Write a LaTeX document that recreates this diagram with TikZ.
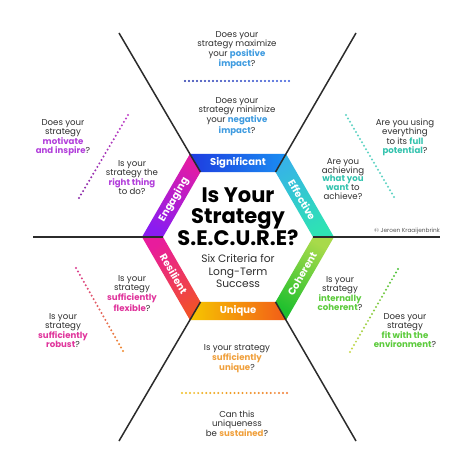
\documentclass[tikz,border=0pt]{standalone}
\usepackage{fontspec}
\setmainfont{Poppins}
\usetikzlibrary{calc}
\usetikzlibrary{positioning}

\definecolor{lineGray}{HTML}{2B2B2B}
\definecolor{txtGray}{HTML}{2E2E2E}
\definecolor{cpyGray}{HTML}{555555}
%band colours (start / end of each band, clockwise)
\definecolor{sigA}{HTML}{1E3CE0}
\definecolor{sigB}{HTML}{1A8EF2}
\definecolor{effA}{HTML}{36B4E6}
\definecolor{effB}{HTML}{2EE2B4}
\definecolor{cohA}{HTML}{A8DA4A}
\definecolor{cohB}{HTML}{20C02E}
\definecolor{uniA}{HTML}{F25C18}
\definecolor{uniB}{HTML}{F6C600}
\definecolor{resA}{HTML}{F2502A}
\definecolor{resB}{HTML}{E81C9C}
\definecolor{engA}{HTML}{8A1CF0}
\definecolor{engB}{HTML}{E21CA6}
%question colours
\definecolor{qBlue}{HTML}{3E9BE0}
\definecolor{qPurple}{HTML}{B23FDB}
\definecolor{qTeal}{HTML}{33C3AE}
\definecolor{qPink}{HTML}{E0359C}
\definecolor{qGreen}{HTML}{5CCB3C}
\definecolor{qOrange}{HTML}{F0A03C}
%dot colours
\definecolor{dBlueA}{HTML}{2233AA}
\definecolor{dBlueB}{HTML}{3558DD}
\definecolor{dPurA}{HTML}{C040C8}
\definecolor{dPurB}{HTML}{8A2AA8}
\definecolor{dTealA}{HTML}{5ED3C3}
\definecolor{dTealB}{HTML}{5ED3C3}
\definecolor{dPinkA}{HTML}{D93A8F}
\definecolor{dPinkB}{HTML}{F08A30}
\definecolor{dGreenA}{HTML}{4CC23A}
\definecolor{dGreenB}{HTML}{C8D84A}
\definecolor{dOrA}{HTML}{F0C020}
\definecolor{dOrB}{HTML}{F07A30}

\newcommand{\hlt}[2]{{\bfseries\color{#1}#2}}

\begin{document}
\begin{tikzpicture}[x=1pt, y=1pt,
  spoke/.style={lineGray, line width=1.5pt},
  band/.style={text=white, font=\fontsize{10}{11}\selectfont\bfseries, inner sep=0pt},
  quest/.style={align=center, text=txtGray, inner sep=0pt, font=\fontsize{8.6}{8.9}\selectfont}]

  \useasboundingbox[fill=white] (-238,-237) rectangle (236,237);

  \def\R{96};
  \def\r{75};

%draw hexagon bands
  \foreach \a/\cs/\ce/\lab/\rot in {120/sigA/sigB/Significant/0, 60/effA/effB/Effective/-60,
                                    0/cohA/cohB/Coherent/60, -60/uniA/uniB/Unique/0,
                                    -120/resA/resB/Resilient/-60, 180/engA/engB/Engaging/60}{
      \pgfmathsetmacro\b{\a-60}
      \pgfmathsetmacro\s{\a-210}
      \pgfmathsetmacro\m{\a-30}
      \shade[top color=\ce, bottom color=\cs, shading angle=\s]
          (\a:\R) -- (\b:\R) -- (\b:\r) -- (\a:\r) -- cycle;
      \node[band, rotate=\rot] (\lab) at (\m:{(\R+\r)/2*cos(30)}) {\lab};
  }

%draw spokes
  \foreach \a/\ex/\ey/\name in {120/-119/204/tl, 60/118/204/tr, 0/202/0/rr,
                                -60/118/-204/br, -120/-119/-204/bl, 180/-205/0/ll}{
      \coordinate (V\name) at (\a:\r);
      \coordinate (E\name) at (\ex,\ey);
      \draw[spoke] (V\name) -- (E\name);
  }

%title
  \node[align=center, text=black, font=\fontsize{21}{20.8}\selectfont\bfseries] (title) at (0,20) {Is Your\\Strategy\\S.E.C.U.R.E?};
  \node[align=center, text=txtGray, font=\fontsize{10.7}{12.3}\selectfont] (sub) at (0,-34) {Six Criteria for\\Long-Term\\Success};

%questions
  \node[quest] (sigOut) at (-1,187) {Does your\\strategy maximize\\your \hlt{qBlue}{positive}\\\hlt{qBlue}{impact}?};
  \node[quest] (sigIn) at (-1,120.5) {Does your\\strategy minimize\\your \hlt{qBlue}{negative}\\\hlt{qBlue}{impact}?};
  \node[quest] (engOut) at (-175,99.5) {Does your\\strategy\\\hlt{qPurple}{motivate}\\\hlt{qPurple}{and inspire}?};
  \node[quest] (engIn) at (-106,59.5) {Is your\\strategy the\\\hlt{qPurple}{right thing}\\to do?};
  \node[quest] (effOut) at (167,99.5) {Are you using\\everything\\to its \hlt{qTeal}{full}\\\hlt{qTeal}{potential}?};
  \node[quest] (effIn) at (105,58) {Are you\\achieving\\\hlt{qTeal}{what you}\\\hlt{qTeal}{want} to\\achieve?};
  \node[quest] (resIn) at (-106,-56.5) {Is your\\strategy\\\hlt{qPink}{sufficiently}\\\hlt{qPink}{flexible}?};
  \node[quest] (resOut) at (-175,-93.5) {Is your\\strategy\\\hlt{qPink}{sufficiently}\\\hlt{qPink}{robust}?};
  \node[quest] (cohIn) at (102,-56.5) {Is your\\strategy\\\hlt{qGreen}{internally}\\\hlt{qGreen}{coherent}?};
  \node[quest] (cohOut) at (167,-93.5) {Does your\\strategy\\\hlt{qGreen}{fit with the}\\\hlt{qGreen}{environment}?};
  \node[quest] (uniIn) at (-1,-121.5) {Is your strategy\\\hlt{qOrange}{sufficiently}\\\hlt{qOrange}{unique}?};
  \node[quest] (uniOut) at (-1,-187) {Can this\\uniqueness\\be \hlt{qOrange}{sustained}?};

  \node[anchor=base east, text=cpyGray, inner sep=0pt, font=\fontsize{5.8}{6}\selectfont] (copy) at (202,5) {© Jeroen Kraaijenbrink};

%dotted separators
  \coordinate (sigA) at (-53,156);   \coordinate (sigB) at (51,156);
  \coordinate (engA) at (-110,122);  \coordinate (engB) at (-159,39);
  \coordinate (effA) at (108,122);   \coordinate (effB) at (156,40);
  \coordinate (resA) at (-162,-31);  \coordinate (resB) at (-115,-114);
  \coordinate (cohA) at (160,-32);   \coordinate (cohB) at (112,-115);
  \coordinate (uniA) at (-56,-156);  \coordinate (uniB) at (49,-156);

  \foreach \p/\q/\ca/\cb/\n in {sigA/sigB/dBlueA/dBlueB/26, engA/engB/dPurA/dPurB/24,
                                effA/effB/dTealA/dTealB/24, resA/resB/dPinkA/dPinkB/24,
                                cohA/cohB/dGreenA/dGreenB/24, uniA/uniB/dOrA/dOrB/26}{
      \foreach \t in {0,...,\n}{
          \pgfmathsetmacro\f{100*\t/\n}
          \fill[\cb!\f!\ca] ($(\p)!\t/\n!(\q)$) circle[radius=1.1];
      }
  }

\end{tikzpicture}
\end{document}
